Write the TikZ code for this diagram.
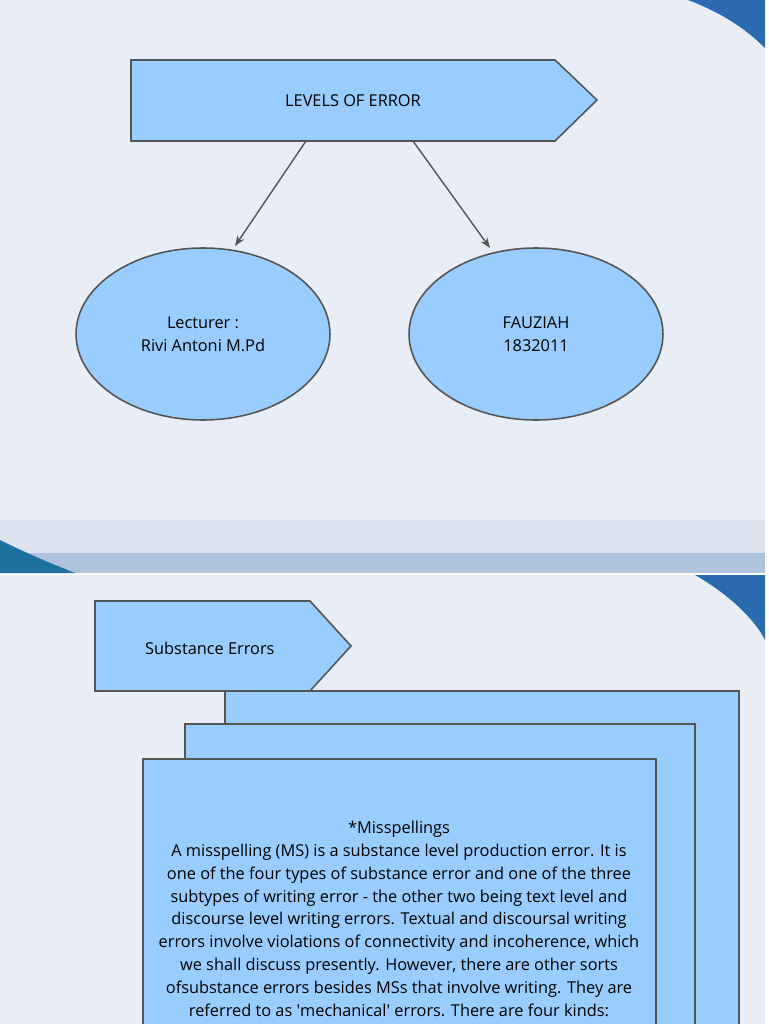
\documentclass[tikz,border=0pt]{standalone}
\usepackage{fontspec}
\setmainfont{Open Sans}
\usetikzlibrary{shapes.geometric,arrows.meta}
\definecolor{bg}{HTML}{E9EEF6}
\definecolor{boxb}{HTML}{99CCFF}
\definecolor{edge}{HTML}{555555}
\definecolor{dblue}{HTML}{2A6AAE}
\definecolor{band}{HTML}{B0C3DC}
\definecolor{band2}{HTML}{DDE3EE}
\tikzset{shp/.style={fill=boxb,draw=edge,line width=0.9pt},
 txt/.style={font=\fontsize{9.3}{13}\selectfont,align=center},
 arr/.style={draw=edge,line width=0.8pt,-{Stealth[length=6pt]}}}
\begin{document}
\begin{tikzpicture}[x=0.02cm,y=-0.02cm]
\useasboundingbox (0,0) rectangle (768,1024);
\fill[white] (0,0) rectangle (768,1024);
% slide 1 background
\fill[bg] (0,0) rectangle (765,573);
\fill[dblue] (688,0) .. controls (720,12) and (745,28) .. (765,48) -- (765,0) -- cycle;
\fill[band2] (0,520) rectangle (765,553);
\fill[band] (0,553) rectangle (765,573);
\fill[dblue!70!teal] (0,540) .. controls (30,555) and (55,565) .. (75,573) -- (0,573) -- cycle;
% slide 2 background
\fill[bg] (0,575) rectangle (765,1024);
\fill[dblue] (695,575) .. controls (730,595) and (755,620) .. (765,640) -- (765,575) -- cycle;
% slide 1 content
\draw[shp] (131,60) -- (555,60) -- (597,100) -- (555,141) -- (131,141) -- cycle;
\node[txt] (t1) at (353,101) {LEVELS OF ERROR};
\node[shp,ellipse,minimum width=5.08cm,minimum height=3.44cm,txt] (e1) at (203,334) {Lecturer :\\Rivi Antoni M.Pd};
\node[shp,ellipse,minimum width=5.08cm,minimum height=3.44cm,txt] (e2) at (536,334) {FAUZIAH\\1832011};
\coordinate (s1) at (306,141); \coordinate (s2) at (413,141);
\coordinate (d1) at (235,246); \coordinate (d2) at (490,248);
\draw[arr] (s1) -- (d1);
\draw[arr] (s2) -- (d2);
% slide 2 content
\draw[shp] (95,601) -- (310,601) -- (351,646) -- (310,691) -- (95,691) -- cycle;
\node[txt,anchor=west] (t2) at (139,648) {Substance Errors};
\draw[shp] (225,691) rectangle (739,1030);
\draw[shp] (185,724) rectangle (695,1030);
\draw[shp] (143,759) rectangle (656,1030);
\node[txt,anchor=north] (body) at (399,815) {*Misspellings\\
A misspelling (MS) is a substance level production error. It is\\
one of the four types of substance error and one of the three\\
subtypes of writing error - the other two being text level and\\
discourse level writing errors. Textual and discoursal writing\\
errors involve violations of connectivity and incoherence, which\\
we shall discuss presently. However, there are other sorts\\
ofsubstance errors besides MSs that involve writing. They are\\
referred to as \textquotesingle mechanical\textquotesingle\ errors. There are four kinds:};
\end{tikzpicture}
\end{document}
